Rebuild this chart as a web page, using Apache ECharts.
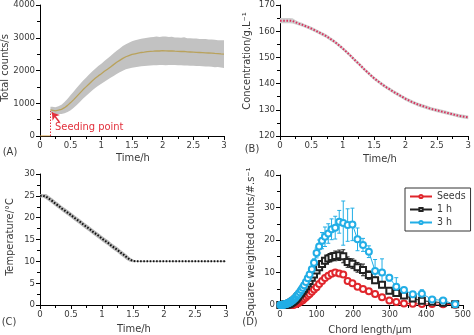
<!DOCTYPE html>
<html><head><meta charset="utf-8">
<script src="https://cdn.jsdelivr.net/npm/echarts@6/dist/echarts.min.js"></script>
<style>html,body{margin:0;padding:0;background:#fff}#c{width:474px;height:335px}</style>
</head><body><div id="c"></div>
<script>
// ---------- DATA ----------
// Panel A: total counts vs time
const timeA = [0.17,0.2,0.25,0.3,0.35,0.4,0.45,0.5,0.55,0.6,0.65,0.7,0.75,0.8,0.85,0.9,0.95,1.0,1.05,1.1,1.15,1.2,1.25,1.3,1.35,1.4,1.45,1.5,1.55,1.6,1.65,1.7,1.75,1.8,1.85,1.9,1.95,2.0,2.05,2.1,2.15,2.2,2.25,2.3,2.35,2.4,2.45,2.5,2.55,2.6,2.65,2.7,2.75,2.8,2.85,2.9,2.95,3.0];
const countsMean = [800,790,770,790,815,865,935,1020,1110,1210,1310,1410,1500,1590,1680,1760,1835,1900,1975,2040,2110,2180,2250,2310,2370,2420,2455,2490,2510,2530,2550,2560,2575,2585,2590,2600,2595,2605,2600,2595,2600,2590,2585,2580,2585,2570,2565,2560,2555,2550,2545,2540,2535,2530,2520,2515,2505,2500];
const countsSd = [90,100,110,120,140,170,200,230,250,260,270,275,280,285,290,295,300,305,315,325,335,345,355,365,375,385,395,405,410,415,420,425,428,430,432,440,430,435,440,425,430,420,425,420,430,415,420,415,420,410,415,420,410,415,420,410,415,420];
const preSeedTime = [0, 0.17];
const preSeedCounts = [0, 0];
const seedTime = 0.17;

// Panels B and C: concentration and temperature vs time
const timeBC = [0,0.05,0.1,0.15,0.2,0.25,0.3,0.35,0.4,0.45,0.5,0.55,0.6,0.65,0.7,0.75,0.8,0.85,0.9,0.95,1.0,1.05,1.1,1.15,1.2,1.25,1.3,1.35,1.4,1.45,1.5,1.55,1.6,1.65,1.7,1.75,1.8,1.85,1.9,1.95,2.0,2.05,2.1,2.15,2.2,2.25,2.3,2.35,2.4,2.45,2.5,2.55,2.6,2.65,2.7,2.75,2.8,2.85,2.9,2.95,3.0];
const concMean = [164.0,164.0,164.0,164.0,163.9,163.4,162.9,162.5,162.0,161.5,161.0,160.4,159.8,159.2,158.6,157.9,157.1,156.3,155.4,154.4,153.4,152.3,151.2,150.0,148.8,147.7,146.5,145.3,144.2,143.1,142.0,141.1,140.2,139.3,138.5,137.8,137.0,136.3,135.6,134.9,134.2,133.6,133.0,132.5,132.0,131.6,131.2,130.8,130.4,130.1,129.8,129.5,129.2,128.9,128.6,128.3,128.0,127.7,127.5,127.3,127.1];
const concSd = [1.0,1.0,1.0,1.0,1.0,0.8,0.7,0.7,0.7,0.7,0.7,0.7,0.7,0.7,0.7,0.7,0.7,0.7,0.7,0.7,0.7,0.7,0.7,0.7,0.7,0.7,0.7,0.7,0.7,0.7,0.7,0.7,0.7,0.7,0.7,0.7,0.7,0.7,0.7,0.7,0.7,0.7,0.7,0.7,0.7,0.7,0.7,0.7,0.7,0.7,0.7,0.7,0.7,0.7,0.7,0.7,0.7,0.7,0.7,0.7,0.7];
const tempMean = [25.0,25.0,24.8,24.3,23.8,23.2,22.7,22.1,21.6,21.1,20.6,20.0,19.5,19.0,18.4,17.9,17.4,16.8,16.3,15.8,15.2,14.7,14.2,13.6,13.1,12.6,12.0,11.5,10.9,10.4,10.1,10.0,10.0,10.0,10.0,10.0,10.0,10.0,10.0,10.0,10.0,10.0,10.0,10.0,10.0,10.0,10.0,10.0,10.0,10.0,10.0,10.0,10.0,10.0,10.0,10.0,10.0,10.0,10.0,10.0,10.0];
const tempSd = [0.4,0.4,0.6,0.6,0.6,0.6,0.6,0.6,0.6,0.6,0.6,0.6,0.6,0.6,0.6,0.6,0.6,0.6,0.6,0.6,0.6,0.6,0.6,0.6,0.6,0.6,0.6,0.6,0.6,0.5,0.3,0.15,0.15,0.15,0.15,0.15,0.15,0.15,0.15,0.15,0.15,0.15,0.15,0.15,0.15,0.15,0.15,0.15,0.15,0.15,0.15,0.15,0.15,0.15,0.15,0.15,0.15,0.15,0.15,0.15,0.15];

// Panel D: chord length distributions
const chordLen = [1,2,4,6,8,10,12,14,16,18,20,21.5,23,25,27,29,31,33,35,38,41,44,47,50,54,58,62,66,71,76,81,87,93,100,107,115,123,132,141,151,162,173,185,198,212,227,243,260,279,299,318,339,363,388,416,446,479];
const seedsCounts = [0,0,0,0,0,0,0,0,0,0,0,0,0.01,0.01,0.02,0.02,0.03,0.04,0.05,0.1,0.2,0.3,0.45,0.6,0.9,1.2,1.5,1.9,2.4,2.9,3.4,4.1,4.8,5.5,6.5,7.4,8.3,9.0,9.6,10.0,9.7,9.4,7.4,6.7,5.6,4.9,4.2,3.4,2.4,1.4,0.9,0.5,0.4,0.3,0.3,0.2,0.1];
const seedsErr = [0,0,0,0,0,0,0,0,0,0,0,0,0,0,0,0,0,0,0,0,0,0,0,0,0,0,0,0,0,0,0.2,0.2,0.3,0.3,0.3,0.4,0.4,0.5,0.5,0.5,0.5,0.6,0.7,0.5,0.4,0.4,0.3,0.3,0.3,0.3,0.2,0.2,0.2,0.2,0.2,0.2,0.1];
const oneHCounts = [0,0,0,0.01,0.02,0.04,0.06,0.09,0.12,0.16,0.2,0.25,0.3,0.4,0.5,0.6,0.75,0.9,1.05,1.3,1.6,1.9,2.3,2.7,3.2,3.8,4.4,5.0,5.8,6.6,7.4,8.4,9.4,10.6,11.6,12.6,13.6,14.3,14.8,15.1,15.3,15.0,13.2,12.7,11.6,10.8,9.2,7.6,6.2,4.4,3.7,2.9,2.0,1.3,1.0,0.7,0.2];
const oneHErr = [0,0,0,0,0,0,0,0,0,0,0,0,0,0,0,0,0,0,0,0,0,0,0,0,0,0,0,0,0.3,0.3,0.4,0.4,0.5,0.6,0.7,0.8,1.0,1.2,1.3,1.5,1.6,2.0,1.6,1.5,1.5,1.8,1.3,1.0,0.9,0.8,0.7,0.6,0.5,0.4,0.4,0.3,0.3];
const threeHCounts = [0,0.01,0.02,0.04,0.07,0.1,0.15,0.2,0.27,0.35,0.45,0.52,0.6,0.72,0.85,1.0,1.15,1.3,1.5,1.8,2.1,2.5,2.9,3.3,3.9,4.6,5.3,6.1,7.1,8.2,9.4,11.0,13.0,16.0,18.0,19.8,21.0,22.0,23.3,23.8,25.6,25.2,24.6,24.8,20.2,18.5,16.4,10.5,10.0,8.4,5.6,4.6,3.3,3.5,1.7,1.4,0.2];
const threeHErr = [0,0,0,0,0,0,0,0,0,0,0,0,0,0,0,0,0,0,0,0,0,0,0,0,0,0,0,0,0.3,0.4,0.6,0.8,1.2,1.5,2.0,2.5,3.0,3.0,3.2,3.5,3.5,6.8,5.0,5.0,3.5,2.0,1.8,3.5,4.2,1.0,2.8,0.6,0.6,1.2,0.5,0.5,0.3];

// ---------- STYLE ----------
const FONT = "'Liberation Sans Narrow','DejaVu Sans Condensed','Liberation Sans',sans-serif";
const TXT = '#3a3a3a';
const RED = '#e0262c', BLACK = '#222222', BLUE = '#22aee6';

const zip = (xs, ys) => xs.map((x, i) => [x, ys[i]]);
const plain = v => String(v);

function mainAxis(kind, g, min, max, interval) {
  return {
    type: 'value', gridIndex: g, min, max, interval,
    position: kind === 'x' ? 'bottom' : 'left',
    splitLine: { show: false },
    axisLine: { show: true, onZero: false, lineStyle: { color: '#000', width: 1 } },
    axisTick: { show: true, inside: false, length: 4, lineStyle: { color: '#000', width: 1 } },
    minorTick: { show: true, splitNumber: 2, length: 3, lineStyle: { color: '#000', width: 1 } },
    axisLabel: { show: true, color: TXT, fontFamily: FONT, fontSize: 9.5, margin: 5, formatter: plain }
  };
}

function bandSeries(ai, xs, mean, sd, color) {
  return {
    type: 'custom', xAxisIndex: ai, yAxisIndex: ai, data: [0], silent: true, z: 1,
    renderItem(params, api) {
      const up = xs.map((x, i) => api.coord([x, mean[i] + sd[i]]));
      const lo = xs.map((x, i) => api.coord([x, mean[i] - sd[i]])).reverse();
      return { type: 'polygon', shape: { points: up.concat(lo) }, style: { fill: color } };
    }
  };
}
function errSeries(ai, xs, vals, errs, color) {
  return {
    type: 'custom', xAxisIndex: ai, yAxisIndex: ai, silent: true, z: 2,
    data: xs.map((x, i) => [x, vals[i] - errs[i], vals[i] + errs[i], errs[i]]),
    encode: { x: 0, y: [1, 2] },
    renderItem(params, api) {
      if (api.value(3) <= 0) return null;
      const x = api.value(0);
      const lo = api.coord([x, api.value(1)]), hi = api.coord([x, api.value(2)]);
      const w = 2;
      const st = { stroke: color, lineWidth: 1 };
      return { type: 'group', children: [
        { type: 'line', shape: { x1: lo[0], y1: lo[1], x2: hi[0], y2: hi[1] }, style: st },
        { type: 'line', shape: { x1: lo[0] - w, y1: lo[1], x2: lo[0] + w, y2: lo[1] }, style: st },
        { type: 'line', shape: { x1: hi[0] - w, y1: hi[1], x2: hi[0] + w, y2: hi[1] }, style: st }
      ]};
    }
  };
}
function txt(text, x, y, opts) {
  return Object.assign({ type: 'text', x, y,
    style: Object.assign({ text, fill: TXT, font: '11px ' + FONT, textAlign: 'center', textVerticalAlign: 'middle' }, opts && opts.style || {}) },
    opts && opts.rotation ? { rotation: opts.rotation } : {});
}

const chart = echarts.init(document.getElementById('c'), null, { renderer: 'canvas' });
const option = {
  animation: false,
  backgroundColor: '#fff',
  grid: [
    { left: 40, top: 4, width: 184, height: 132 },
    { left: 280, top: 5, width: 191, height: 131 },
    { left: 40, top: 174, width: 186, height: 131 },
    { left: 280, top: 175, width: 190, height: 130 }
  ],
  xAxis: [mainAxis('x', 0, 0, 3, 0.5), mainAxis('x', 1, 0, 3, 0.5), mainAxis('x', 2, 0, 3, 0.5), mainAxis('x', 3, 0, 500, 100)],
  yAxis: [mainAxis('y', 0, 0, 4000, 1000), mainAxis('y', 1, 120, 170, 10), mainAxis('y', 2, 0, 30, 5), mainAxis('y', 3, 0, 40, 10)],
  legend: {
    data: ['Seeds', '1 h', '3 h'], orient: 'vertical', left: 405, top: 188,
    borderColor: '#333', borderWidth: 1, padding: [3, 5, 3, 4], itemGap: 2,
    itemWidth: 22, itemHeight: 4,
    textStyle: { color: TXT, fontFamily: FONT, fontSize: 10.5 }
  },
  graphic: [
    txt('Total counts/s', 5, 68, { rotation: Math.PI / 2 }),
    txt('Concentration/g.L\u207B\u00B9', 247, 61, { rotation: Math.PI / 2 }),
    txt('Temperature/\u00B0C', 10, 237, { rotation: Math.PI / 2 }),
    txt('Square weighted counts/#.s\u207B\u00B9', 251, 242, { rotation: Math.PI / 2 }),
    txt('Time/h', 133, 158),
    txt('Time/h', 380, 159),
    txt('Time/h', 134, 329),
    txt('Chord length/\u03BCm', 370, 330),
    txt('(A)', 10, 152),
    txt('(B)', 252, 149),
    txt('(C)', 9, 322),
    txt('(D)', 250, 322),
    txt('Seeding point', 55, 127, { style: { fill: '#e2303c', textAlign: 'left' } })
  ],
  series: [
    // Panel A
    bandSeries(0, timeA, countsMean, countsSd, '#c2c2c2'),
    { type: 'line', xAxisIndex: 0, yAxisIndex: 0, data: zip(preSeedTime, preSeedCounts), symbol: 'none',
      lineStyle: { color: '#d9a040', width: 1.2 }, z: 3 },
    { type: 'line', xAxisIndex: 0, yAxisIndex: 0, data: zip(timeA, countsMean), symbol: 'none',
      lineStyle: { color: '#b9a25c', width: 1.3 }, z: 3,
      markLine: { silent: true, animation: false, label: { show: false },
        data: [
          [{ coord: [seedTime, 0], symbol: 'none', lineStyle: { color: '#e2303c', type: [1.5, 1.5], width: 1 } },
           { coord: [seedTime, 760], symbol: 'none' }],
          [{ coord: [0.315, 430], symbol: 'none', lineStyle: { color: '#e2303c', type: 'solid', width: 1.5 } },
           { coord: [0.195, 720], symbol: 'arrow', symbolSize: 7 }]
        ] } },
    // Panel B
    bandSeries(1, timeBC, concMean, concSd, '#cfcfcf'),
    { type: 'line', xAxisIndex: 1, yAxisIndex: 1, data: zip(timeBC, concMean), symbol: 'none',
      lineStyle: { color: '#d8335f', width: 2, type: [1.6, 1.6] }, z: 3 },
    // Panel C
    bandSeries(2, timeBC, tempMean, tempSd, '#b8b8b8'),
    { type: 'line', xAxisIndex: 2, yAxisIndex: 2, data: zip(timeBC, tempMean), symbol: 'none',
      lineStyle: { color: '#111', width: 2, type: [1.6, 1.6] }, z: 3 },
    // Panel D
    errSeries(3, chordLen, seedsCounts, seedsErr, RED),
    { name: 'Seeds', type: 'line', xAxisIndex: 3, yAxisIndex: 3, data: zip(chordLen, seedsCounts),
      symbol: 'emptyCircle', symbolSize: 6, lineStyle: { color: RED, width: 1 },
      itemStyle: { color: RED, borderColor: RED, borderWidth: 1 }, z: 3 },
    errSeries(3, chordLen, oneHCounts, oneHErr, BLACK),
    { name: '1 h', type: 'line', xAxisIndex: 3, yAxisIndex: 3, data: zip(chordLen, oneHCounts),
      symbol: 'emptyRect', symbolSize: 6, lineStyle: { color: BLACK, width: 1 },
      itemStyle: { color: BLACK, borderColor: BLACK, borderWidth: 1 }, z: 4 },
    errSeries(3, chordLen, threeHCounts, threeHErr, BLUE),
    { name: '3 h', type: 'line', xAxisIndex: 3, yAxisIndex: 3, data: zip(chordLen, threeHCounts),
      symbol: 'emptyCircle', symbolSize: 6, lineStyle: { color: BLUE, width: 1 },
      itemStyle: { color: BLUE, borderColor: BLUE, borderWidth: 1 }, z: 5 }
  ]
};
chart.setOption(option);
</script>
</body></html>
